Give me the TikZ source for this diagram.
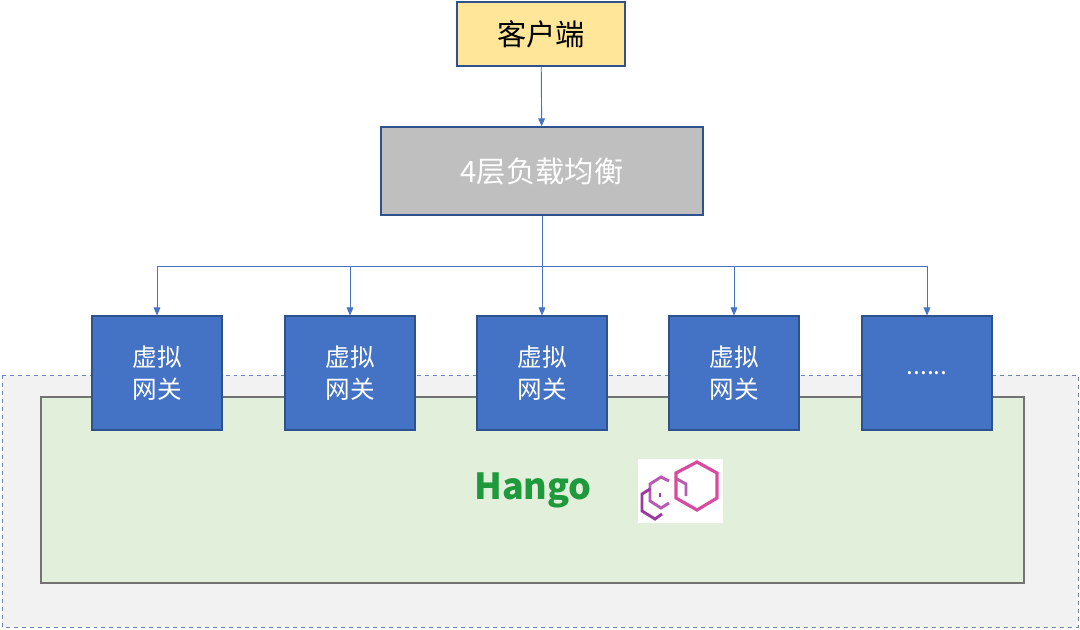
\documentclass[tikz,border=0pt]{standalone}
\usepackage{fontspec}
\setmainfont{Noto Sans CJK SC}
\usetikzlibrary{arrows.meta}
\definecolor{bblue}{HTML}{4472C4}
\definecolor{dblue}{HTML}{2F528F}
\definecolor{lgray}{HTML}{BFBFBF}
\definecolor{yel}{HTML}{FFE699}
\definecolor{grn}{HTML}{E2EFDA}
\definecolor{hgreen}{HTML}{1E9A3C}
\definecolor{mag1}{HTML}{D94BA0}
\definecolor{mag2}{HTML}{B95BB0}
\definecolor{mag3}{HTML}{9B3A9E}
\begin{document}
\begin{tikzpicture}[x=0.0264cm,y=-0.0264cm,
  gw/.style={draw=dblue,fill=bblue,line width=0.8pt,minimum width=130*0.0264cm,minimum height=114*0.0264cm,text=white,font=\fontsize{18.5}{24}\selectfont,align=center,inner sep=0pt},
  arr/.style={draw=bblue,line width=0.7pt,-{Triangle[length=6pt,width=5pt]}},
  ln/.style={draw=bblue,line width=0.7pt}]
\useasboundingbox (0,0) rectangle (1080,629);
\fill[white] (0,0) rectangle (1080,629);
\draw[fill=black!5,draw=dblue!70,dashed,line width=0.6pt] (2,375) rectangle (1078,627);
\draw[fill=grn,draw=black!55,line width=1pt] (41,397) rectangle (1024,583);
\node[draw=dblue,fill=yel,line width=0.8pt,minimum width=168*0.0264cm,minimum height=64*0.0264cm,font=\fontsize{22}{26}\selectfont,inner sep=0pt] (c) at (541,34) {客户端};
\node[draw=dblue,fill=lgray,line width=1pt,minimum width=322*0.0264cm,minimum height=88*0.0264cm,text=white,font=\fontsize{22}{26}\selectfont,inner sep=0pt] (lb) at (542,171) {4层负载均衡};
\draw[arr] (c) -- (lb);
\node[gw] (g1) at (157,373) {虚拟\\网关};
\node[gw] (g2) at (350,373) {虚拟\\网关};
\node[gw] (g3) at (542,373) {虚拟\\网关};
\node[gw] (g4) at (734,373) {虚拟\\网关};
\node[gw] (g5) at (927,373) {......};
\coordinate (j) at (542,266);
\draw[ln] (lb.south) -- (j);
\draw[ln] (g1.north |- j) -- (g5.north |- j);
\foreach \g in {g1,g2,g3,g4,g5} \draw[arr] (\g.north |- j) -- (\g.north);
\node[text=hgreen,font=\bfseries\fontsize{27}{30}\selectfont] (h) at (533,490) {Hango};
\node[fill=white,minimum width=85*0.0264cm,minimum height=64*0.0264cm,inner sep=0pt] (logo) at (680,491) {};
\draw[mag1,line width=2.4pt] (697,462) -- (717,473) -- (717,498) -- (697,510) -- (676,498) -- (676,473) -- cycle;
\draw[mag2,line width=2.2pt] (669,503) -- (661,508) -- (650,501) -- (650,484) -- (661,477) -- (669,481);
\draw[mag2,line width=2.2pt] (677,479) -- (686,484) -- (686,496);
\draw[mag3,line width=2.2pt] (662,514) -- (655,519) -- (642,511) -- (642,494) -- (650,489);
\draw[mag3,line width=2pt] (660,493) -- (660,497);
\end{tikzpicture}
\end{document}
